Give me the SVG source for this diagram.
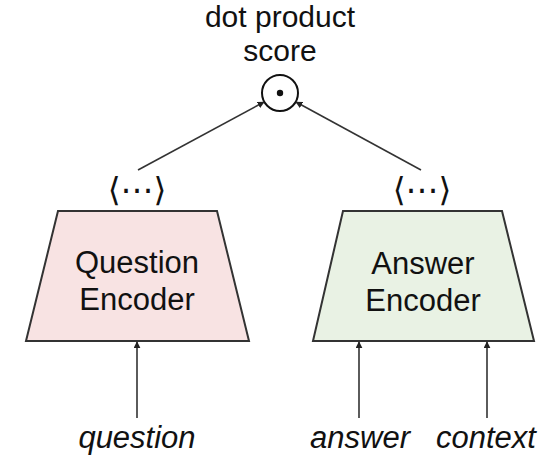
<svg xmlns="http://www.w3.org/2000/svg" width="558" height="464" viewBox="0 0 558 464">
<defs>
<style>
.t{font-family:"Liberation Sans",Arial,sans-serif;font-size:31px;fill:#111;text-anchor:middle}
.s{font-size:30px}
.i{font-style:italic}
.v{font-family:"DejaVu Sans",sans-serif;font-size:33px;fill:#111;text-anchor:middle}
.e{stroke:#333;stroke-width:2;stroke-linejoin:miter}
.c{stroke:#333;stroke-width:1.6;fill:none;marker-end:url(#ah)}
</style>
<marker id="ah" viewBox="0 0 10 10" refX="9" refY="5" markerWidth="7" markerHeight="7" markerUnits="userSpaceOnUse" orient="auto">
<path d="M0,0 L10,5 L0,10 z" fill="#222"/>
</marker>
</defs>
<rect width="558" height="464" fill="#fff"/>
<g id="score">
<text class="t s" x="280" y="27">dot product</text>
<text class="t s" x="280" y="61">score</text>
<circle cx="280" cy="93" r="18" fill="#fff" stroke="#111" stroke-width="2"/>
<circle cx="280" cy="93" r="3.2" fill="#111"/>
</g>
<g id="qvec"><text class="v" x="137" y="201">⟨⋯⟩</text></g>
<g id="avec"><text class="v" x="422" y="201">⟨⋯⟩</text></g>
<g id="question-encoder">
<polygon class="e" points="58,211 217,211 249,341 26,341" fill="#f8e3e3"/>
<text class="t" x="137" y="273">Question</text>
<text class="t" x="137" y="310">Encoder</text>
</g>
<g id="answer-encoder">
<polygon class="e" points="343,211 502,211 534,341 313,341" fill="#e9f2e4"/>
<text class="t" x="423" y="274">Answer</text>
<text class="t" x="423" y="311">Encoder</text>
</g>
<g id="question"><text class="t i" x="137" y="448">question</text></g>
<g id="answer"><text class="t i" x="360" y="448">answer</text></g>
<g id="context"><text class="t i" x="486" y="448">context</text></g>
<g id="connectors">
<line class="c" x1="138" y1="170" x2="264" y2="102"/>
<line class="c" x1="421" y1="170" x2="296" y2="102"/>
<line class="c" x1="137" y1="418" x2="137" y2="342"/>
<line class="c" x1="359" y1="418" x2="359" y2="342"/>
<line class="c" x1="487" y1="418" x2="487" y2="342"/>
</g>
</svg>
